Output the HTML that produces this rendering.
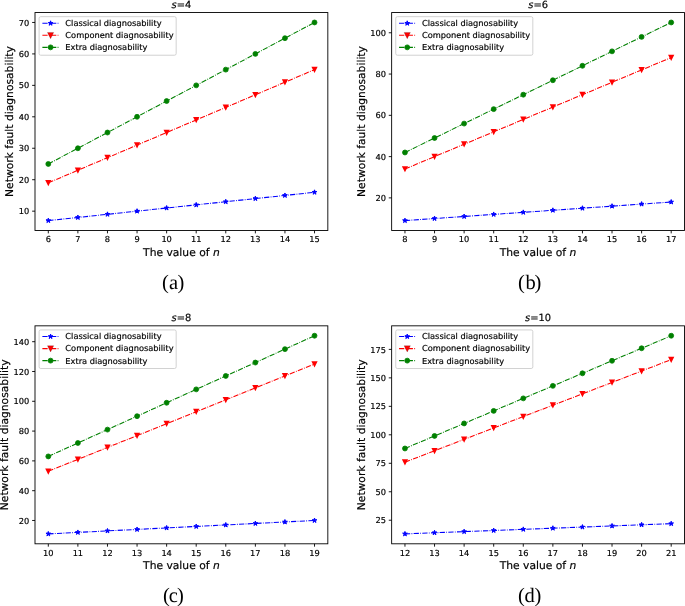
<!DOCTYPE html>
<html lang="en"><head><meta charset="utf-8"><title>Network fault diagnosability</title>
<style>html,body{margin:0;padding:0;background:#fff}body{width:685px;height:606px;overflow:hidden}svg{display:block}</style>
</head><body>
<svg text-rendering="geometricPrecision" width="685" height="606" viewBox="0 0 685 606">
<rect width="685" height="606" fill="#fff"/>
<g>
<polyline fill="none" stroke="#0000ff" stroke-width="1.08" stroke-dasharray="5.24 1.31 0.82 1.31" points="48.31,220.59 77.89,217.45 107.47,214.3 137.05,211.16 166.63,208.01 196.2,204.87 225.78,201.72 255.36,198.58 284.94,195.43 314.52,192.29"/>
<path d="M48.31 218.14L47.76 219.83L45.97 219.83L47.42 220.88L46.87 222.58L48.31 221.53L49.75 222.58L49.2 220.88L50.65 219.83L48.86 219.83ZM77.89 214.99L77.34 216.69L75.55 216.69L77 217.74L76.45 219.44L77.89 218.39L79.33 219.44L78.78 217.74L80.23 216.69L78.44 216.69ZM107.47 211.85L106.92 213.54L105.13 213.54L106.58 214.59L106.02 216.29L107.47 215.24L108.91 216.29L108.36 214.59L109.8 213.54L108.02 213.54ZM137.05 208.7L136.5 210.4L134.71 210.4L136.15 211.45L135.6 213.15L137.05 212.1L138.49 213.15L137.94 211.45L139.38 210.4L137.6 210.4ZM166.63 205.56L166.07 207.25L164.29 207.25L165.73 208.3L165.18 210L166.63 208.95L168.07 210L167.52 208.3L168.96 207.25L167.18 207.25ZM196.2 202.41L195.65 204.11L193.87 204.11L195.31 205.16L194.76 206.86L196.2 205.81L197.65 206.86L197.1 205.16L198.54 204.11L196.76 204.11ZM225.78 199.27L225.23 200.96L223.45 200.96L224.89 202.01L224.34 203.71L225.78 202.66L227.23 203.71L226.68 202.01L228.12 200.96L226.33 200.96ZM255.36 196.12L254.81 197.82L253.03 197.82L254.47 198.87L253.92 200.57L255.36 199.52L256.81 200.57L256.25 198.87L257.7 197.82L255.91 197.82ZM284.94 192.98L284.39 194.67L282.6 194.67L284.05 195.72L283.5 197.42L284.94 196.37L286.38 197.42L285.83 195.72L287.28 194.67L285.49 194.67ZM314.52 189.83L313.97 191.53L312.18 191.53L313.63 192.58L313.08 194.28L314.52 193.23L315.96 194.28L315.41 192.58L316.86 191.53L315.07 191.53Z" fill="#0000ff" stroke="#0000ff" stroke-width="1" stroke-linejoin="bevel"/>
<polyline fill="none" stroke="#ff0000" stroke-width="1.08" stroke-dasharray="5.24 1.31 0.82 1.31" points="48.31,182.85 77.89,170.27 107.47,157.69 137.05,145.11 166.63,132.53 196.2,119.95 225.78,107.37 255.36,94.79 284.94,82.21 314.52,69.63"/>
<path d="M48.31 186.23L45.19 179.99L51.43 179.99ZM77.89 173.65L74.77 167.41L81.01 167.41ZM107.47 161.07L104.35 154.83L110.59 154.83ZM137.05 148.49L133.93 142.25L140.17 142.25ZM166.63 135.91L163.51 129.67L169.75 129.67ZM196.2 123.33L193.08 117.09L199.32 117.09ZM225.78 110.75L222.66 104.51L228.9 104.51ZM255.36 98.16L252.24 91.93L258.48 91.93ZM284.94 85.58L281.82 79.35L288.06 79.35ZM314.52 73L311.4 66.77L317.64 66.77Z" fill="#ff0000"/>
<polyline fill="none" stroke="#008000" stroke-width="1.08" stroke-dasharray="5.24 1.31 0.82 1.31" points="48.31,163.98 77.89,148.26 107.47,132.53 137.05,116.81 166.63,101.08 196.2,85.36 225.78,69.63 255.36,53.91 284.94,38.18 314.52,22.46"/>
<circle cx="48.31" cy="163.98" r="2.46" fill="#008000" stroke="#008000" stroke-width="0.82"/>
<circle cx="77.89" cy="148.26" r="2.46" fill="#008000" stroke="#008000" stroke-width="0.82"/>
<circle cx="107.47" cy="132.53" r="2.46" fill="#008000" stroke="#008000" stroke-width="0.82"/>
<circle cx="137.05" cy="116.81" r="2.46" fill="#008000" stroke="#008000" stroke-width="0.82"/>
<circle cx="166.63" cy="101.08" r="2.46" fill="#008000" stroke="#008000" stroke-width="0.82"/>
<circle cx="196.2" cy="85.36" r="2.46" fill="#008000" stroke="#008000" stroke-width="0.82"/>
<circle cx="225.78" cy="69.63" r="2.46" fill="#008000" stroke="#008000" stroke-width="0.82"/>
<circle cx="255.36" cy="53.91" r="2.46" fill="#008000" stroke="#008000" stroke-width="0.82"/>
<circle cx="284.94" cy="38.18" r="2.46" fill="#008000" stroke="#008000" stroke-width="0.82"/>
<circle cx="314.52" cy="22.46" r="2.46" fill="#008000" stroke="#008000" stroke-width="0.82"/>
<path d="M48.31 230.5v2.87M77.89 230.5v2.87M107.47 230.5v2.87M137.05 230.5v2.87M166.63 230.5v2.87M196.2 230.5v2.87M225.78 230.5v2.87M255.36 230.5v2.87M284.94 230.5v2.87M314.52 230.5v2.87M35 211.16h-2.87M35 179.71h-2.87M35 148.26h-2.87M35 116.81h-2.87M35 85.36h-2.87M35 53.91h-2.87M35 22.46h-2.87" stroke="#000" stroke-width="0.9" fill="none"/>
<rect x="35" y="12.55" width="292.83" height="217.95" fill="none" stroke="#000" stroke-width="0.9"/>
<g font-family="'DejaVu Sans','Liberation Sans',sans-serif" font-size="8.25" fill="#000" stroke="#000" stroke-width="0.18">
<g text-anchor="middle">
<text x="48.31" y="242.46">6</text>
<text x="77.89" y="242.46">7</text>
<text x="107.47" y="242.46">8</text>
<text x="137.05" y="242.46">9</text>
<text x="166.63" y="242.46">10</text>
<text x="196.2" y="242.46">11</text>
<text x="225.78" y="242.46">12</text>
<text x="255.36" y="242.46">13</text>
<text x="284.94" y="242.46">14</text>
<text x="314.52" y="242.46">15</text>
</g><g text-anchor="end">
<text x="29.26" y="214.27">10</text>
<text x="29.26" y="182.82">20</text>
<text x="29.26" y="151.37">30</text>
<text x="29.26" y="119.92">40</text>
<text x="29.26" y="88.47">50</text>
<text x="29.26" y="57.02">60</text>
<text x="29.26" y="25.57">70</text>
</g>
<text font-size="9.9" text-anchor="middle" x="181.41" y="7.64"><tspan font-style="italic">s</tspan>=4</text>
<rect x="39.1" y="16.65" width="137.06" height="38.58" rx="1.64" fill="#fff" fill-opacity="0.8" stroke="#c8c8c8" stroke-width="0.82"/>
<path d="M42.38 23.28H58.78" stroke="#0000ff" stroke-width="1.08" stroke-dasharray="5.24 1.31 0.82 1.31" fill="none"/>
<path d="M50.58 20.82L50.03 22.52L48.24 22.52L49.69 23.57L49.14 25.27L50.58 24.22L52.02 25.27L51.47 23.57L52.92 22.52L51.13 22.52Z" fill="#0000ff" stroke="#0000ff" stroke-width="1" stroke-linejoin="bevel"/>
<text x="65.34" y="26.15">Classical diagnosability</text>
<path d="M42.38 35.32H58.78" stroke="#ff0000" stroke-width="1.08" stroke-dasharray="5.24 1.31 0.82 1.31" fill="none"/>
<path d="M50.58 38.69L47.46 32.45L53.7 32.45Z" fill="#ff0000"/>
<text x="65.34" y="38.19">Component diagnosability</text>
<path d="M42.38 47.36H58.78" stroke="#008000" stroke-width="1.08" stroke-dasharray="5.24 1.31 0.82 1.31" fill="none"/>
<circle cx="50.58" cy="47.36" r="2.46" fill="#008000" stroke="#008000" stroke-width="0.82"/>
<text x="65.34" y="50.22">Extra diagnosability</text>
</g>
<g font-family="'DejaVu Sans','Liberation Sans',sans-serif" font-size="10.72" fill="#000" stroke="#000" stroke-width="0.18" text-anchor="middle">
<text x="181.41" y="255.56">The value of <tspan font-style="italic">n</tspan></text>
<text transform="translate(13.33 121.52) rotate(-90)">Network fault diagnosability</text>
</g>
<text x="162.05 168.9 177.5" y="288.6" font-family="'Liberation Serif','DejaVu Serif',serif" font-size="20.5" fill="#000">(a)</text>
</g>
<g>
<polyline fill="none" stroke="#0000ff" stroke-width="1.08" stroke-dasharray="5.24 1.31 0.82 1.31" points="404.96,220.59 434.54,218.53 464.12,216.47 493.7,214.4 523.28,212.34 552.87,210.27 582.45,208.21 612.03,206.15 641.61,204.08 671.19,202.02"/>
<path d="M404.96 218.14L404.41 219.83L402.62 219.83L404.07 220.88L403.52 222.58L404.96 221.53L406.41 222.58L405.85 220.88L407.3 219.83L405.51 219.83ZM434.54 216.07L433.99 217.77L432.21 217.77L433.65 218.82L433.1 220.52L434.54 219.47L435.99 220.52L435.43 218.82L436.88 217.77L435.09 217.77ZM464.12 214.01L463.57 215.71L461.79 215.71L463.23 216.76L462.68 218.45L464.12 217.4L465.57 218.45L465.02 216.76L466.46 215.71L464.67 215.71ZM493.7 211.94L493.15 213.64L491.37 213.64L492.81 214.69L492.26 216.39L493.7 215.34L495.15 216.39L494.6 214.69L496.04 213.64L494.26 213.64ZM523.28 209.88L522.73 211.58L520.95 211.58L522.39 212.63L521.84 214.33L523.28 213.28L524.73 214.33L524.18 212.63L525.62 211.58L523.84 211.58ZM552.87 207.82L552.31 209.51L550.53 209.51L551.97 210.56L551.42 212.26L552.87 211.21L554.31 212.26L553.76 210.56L555.2 209.51L553.42 209.51ZM582.45 205.75L581.89 207.45L580.11 207.45L581.55 208.5L581 210.2L582.45 209.15L583.89 210.2L583.34 208.5L584.78 207.45L583 207.45ZM612.03 203.69L611.48 205.39L609.69 205.39L611.13 206.44L610.58 208.13L612.03 207.08L613.47 208.13L612.92 206.44L614.36 205.39L612.58 205.39ZM641.61 201.62L641.06 203.32L639.27 203.32L640.72 204.37L640.16 206.07L641.61 205.02L643.05 206.07L642.5 204.37L643.94 203.32L642.16 203.32ZM671.19 199.56L670.64 201.26L668.85 201.26L670.3 202.31L669.74 204.01L671.19 202.96L672.63 204.01L672.08 202.31L673.53 201.26L671.74 201.26Z" fill="#0000ff" stroke="#0000ff" stroke-width="1" stroke-linejoin="bevel"/>
<polyline fill="none" stroke="#ff0000" stroke-width="1.08" stroke-dasharray="5.24 1.31 0.82 1.31" points="404.96,169 434.54,156.61 464.12,144.23 493.7,131.84 523.28,119.46 552.87,107.08 582.45,94.69 612.03,82.31 641.61,69.93 671.19,57.54"/>
<path d="M404.96 172.37L401.84 166.13L408.08 166.13ZM434.54 159.98L431.42 153.75L437.66 153.75ZM464.12 147.6L461 141.36L467.24 141.36ZM493.7 135.22L490.58 128.98L496.82 128.98ZM523.28 122.83L520.17 116.59L526.4 116.59ZM552.87 110.45L549.75 104.21L555.98 104.21ZM582.45 98.07L579.33 91.83L585.57 91.83ZM612.03 85.68L608.91 79.44L615.15 79.44ZM641.61 73.3L638.49 67.06L644.73 67.06ZM671.19 60.92L668.07 54.68L674.31 54.68Z" fill="#ff0000"/>
<polyline fill="none" stroke="#008000" stroke-width="1.08" stroke-dasharray="5.24 1.31 0.82 1.31" points="404.96,152.48 434.54,138.04 464.12,123.59 493.7,109.14 523.28,94.69 552.87,80.25 582.45,65.8 612.03,51.35 641.61,36.9 671.19,22.46"/>
<circle cx="404.96" cy="152.48" r="2.46" fill="#008000" stroke="#008000" stroke-width="0.82"/>
<circle cx="434.54" cy="138.04" r="2.46" fill="#008000" stroke="#008000" stroke-width="0.82"/>
<circle cx="464.12" cy="123.59" r="2.46" fill="#008000" stroke="#008000" stroke-width="0.82"/>
<circle cx="493.7" cy="109.14" r="2.46" fill="#008000" stroke="#008000" stroke-width="0.82"/>
<circle cx="523.28" cy="94.69" r="2.46" fill="#008000" stroke="#008000" stroke-width="0.82"/>
<circle cx="552.87" cy="80.25" r="2.46" fill="#008000" stroke="#008000" stroke-width="0.82"/>
<circle cx="582.45" cy="65.8" r="2.46" fill="#008000" stroke="#008000" stroke-width="0.82"/>
<circle cx="612.03" cy="51.35" r="2.46" fill="#008000" stroke="#008000" stroke-width="0.82"/>
<circle cx="641.61" cy="36.9" r="2.46" fill="#008000" stroke="#008000" stroke-width="0.82"/>
<circle cx="671.19" cy="22.46" r="2.46" fill="#008000" stroke="#008000" stroke-width="0.82"/>
<path d="M404.96 230.5v2.87M434.54 230.5v2.87M464.12 230.5v2.87M493.7 230.5v2.87M523.28 230.5v2.87M552.87 230.5v2.87M582.45 230.5v2.87M612.03 230.5v2.87M641.61 230.5v2.87M671.19 230.5v2.87M391.65 197.89h-2.87M391.65 156.61h-2.87M391.65 115.33h-2.87M391.65 74.05h-2.87M391.65 32.78h-2.87" stroke="#000" stroke-width="0.9" fill="none"/>
<rect x="391.65" y="12.55" width="292.85" height="217.95" fill="none" stroke="#000" stroke-width="0.9"/>
<g font-family="'DejaVu Sans','Liberation Sans',sans-serif" font-size="8.25" fill="#000" stroke="#000" stroke-width="0.18">
<g text-anchor="middle">
<text x="404.96" y="242.46">8</text>
<text x="434.54" y="242.46">9</text>
<text x="464.12" y="242.46">10</text>
<text x="493.7" y="242.46">11</text>
<text x="523.28" y="242.46">12</text>
<text x="552.87" y="242.46">13</text>
<text x="582.45" y="242.46">14</text>
<text x="612.03" y="242.46">15</text>
<text x="641.61" y="242.46">16</text>
<text x="671.19" y="242.46">17</text>
</g><g text-anchor="end">
<text x="385.91" y="201">20</text>
<text x="385.91" y="159.72">40</text>
<text x="385.91" y="118.45">60</text>
<text x="385.91" y="77.17">80</text>
<text x="385.91" y="35.89">100</text>
</g>
<text font-size="9.9" text-anchor="middle" x="538.08" y="7.64"><tspan font-style="italic">s</tspan>=6</text>
<rect x="395.75" y="16.65" width="137.07" height="38.58" rx="1.64" fill="#fff" fill-opacity="0.8" stroke="#c8c8c8" stroke-width="0.82"/>
<path d="M399.03 23.28H415.43" stroke="#0000ff" stroke-width="1.08" stroke-dasharray="5.24 1.31 0.82 1.31" fill="none"/>
<path d="M407.23 20.82L406.68 22.52L404.89 22.52L406.34 23.57L405.79 25.27L407.23 24.22L408.67 25.27L408.12 23.57L409.57 22.52L407.78 22.52Z" fill="#0000ff" stroke="#0000ff" stroke-width="1" stroke-linejoin="bevel"/>
<text x="421.99" y="26.15">Classical diagnosability</text>
<path d="M399.03 35.32H415.43" stroke="#ff0000" stroke-width="1.08" stroke-dasharray="5.24 1.31 0.82 1.31" fill="none"/>
<path d="M407.23 38.69L404.11 32.45L410.35 32.45Z" fill="#ff0000"/>
<text x="421.99" y="38.19">Component diagnosability</text>
<path d="M399.03 47.36H415.43" stroke="#008000" stroke-width="1.08" stroke-dasharray="5.24 1.31 0.82 1.31" fill="none"/>
<circle cx="407.23" cy="47.36" r="2.46" fill="#008000" stroke="#008000" stroke-width="0.82"/>
<text x="421.99" y="50.22">Extra diagnosability</text>
</g>
<g font-family="'DejaVu Sans','Liberation Sans',sans-serif" font-size="10.72" fill="#000" stroke="#000" stroke-width="0.18" text-anchor="middle">
<text x="538.08" y="255.56">The value of <tspan font-style="italic">n</tspan></text>
<text transform="translate(364.77 121.52) rotate(-90)">Network fault diagnosability</text>
</g>
<text x="517.95 525.4 534.5" y="288.6" font-family="'Liberation Serif','DejaVu Serif',serif" font-size="20.5" fill="#000">(b)</text>
</g>
<g>
<polyline fill="none" stroke="#0000ff" stroke-width="1.08" stroke-dasharray="5.24 1.31 0.82 1.31" points="48.31,533.89 77.89,532.4 107.47,530.91 137.05,529.42 166.63,527.93 196.2,526.44 225.78,524.95 255.36,523.46 284.94,521.97 314.52,520.48"/>
<path d="M48.31 531.44L47.76 533.13L45.97 533.13L47.42 534.18L46.87 535.88L48.31 534.83L49.75 535.88L49.2 534.18L50.65 533.13L48.86 533.13ZM77.89 529.95L77.34 531.64L75.55 531.64L77 532.69L76.45 534.39L77.89 533.34L79.33 534.39L78.78 532.69L80.23 531.64L78.44 531.64ZM107.47 528.46L106.92 530.15L105.13 530.15L106.58 531.2L106.02 532.9L107.47 531.85L108.91 532.9L108.36 531.2L109.8 530.15L108.02 530.15ZM137.05 526.97L136.5 528.66L134.71 528.66L136.15 529.71L135.6 531.41L137.05 530.36L138.49 531.41L137.94 529.71L139.38 528.66L137.6 528.66ZM166.63 525.48L166.07 527.17L164.29 527.17L165.73 528.22L165.18 529.92L166.63 528.87L168.07 529.92L167.52 528.22L168.96 527.17L167.18 527.17ZM196.2 523.99L195.65 525.68L193.87 525.68L195.31 526.73L194.76 528.43L196.2 527.38L197.65 528.43L197.1 526.73L198.54 525.68L196.76 525.68ZM225.78 522.5L225.23 524.19L223.45 524.19L224.89 525.24L224.34 526.94L225.78 525.89L227.23 526.94L226.68 525.24L228.12 524.19L226.33 524.19ZM255.36 521.01L254.81 522.7L253.03 522.7L254.47 523.75L253.92 525.45L255.36 524.4L256.81 525.45L256.25 523.75L257.7 522.7L255.91 522.7ZM284.94 519.52L284.39 521.21L282.6 521.21L284.05 522.26L283.5 523.96L284.94 522.91L286.38 523.96L285.83 522.26L287.28 521.21L285.49 521.21ZM314.52 518.03L313.97 519.72L312.18 519.72L313.63 520.77L313.08 522.47L314.52 521.42L315.96 522.47L315.41 520.77L316.86 519.72L315.07 519.72Z" fill="#0000ff" stroke="#0000ff" stroke-width="1" stroke-linejoin="bevel"/>
<polyline fill="none" stroke="#ff0000" stroke-width="1.08" stroke-dasharray="5.24 1.31 0.82 1.31" points="48.31,471.32 77.89,459.4 107.47,447.48 137.05,435.56 166.63,423.64 196.2,411.72 225.78,399.8 255.36,387.88 284.94,375.96 314.52,364.05"/>
<path d="M48.31 474.69L45.19 468.45L51.43 468.45ZM77.89 462.77L74.77 456.53L81.01 456.53ZM107.47 450.85L104.35 444.61L110.59 444.61ZM137.05 438.93L133.93 432.69L140.17 432.69ZM166.63 427.01L163.51 420.77L169.75 420.77ZM196.2 415.09L193.08 408.86L199.32 408.86ZM225.78 403.18L222.66 396.94L228.9 396.94ZM255.36 391.26L252.24 385.02L258.48 385.02ZM284.94 379.34L281.82 373.1L288.06 373.1ZM314.52 367.42L311.4 361.18L317.64 361.18Z" fill="#ff0000"/>
<polyline fill="none" stroke="#008000" stroke-width="1.08" stroke-dasharray="5.24 1.31 0.82 1.31" points="48.31,456.42 77.89,443.01 107.47,429.6 137.05,416.19 166.63,402.78 196.2,389.37 225.78,375.96 255.36,362.56 284.94,349.15 314.52,335.74"/>
<circle cx="48.31" cy="456.42" r="2.46" fill="#008000" stroke="#008000" stroke-width="0.82"/>
<circle cx="77.89" cy="443.01" r="2.46" fill="#008000" stroke="#008000" stroke-width="0.82"/>
<circle cx="107.47" cy="429.6" r="2.46" fill="#008000" stroke="#008000" stroke-width="0.82"/>
<circle cx="137.05" cy="416.19" r="2.46" fill="#008000" stroke="#008000" stroke-width="0.82"/>
<circle cx="166.63" cy="402.78" r="2.46" fill="#008000" stroke="#008000" stroke-width="0.82"/>
<circle cx="196.2" cy="389.37" r="2.46" fill="#008000" stroke="#008000" stroke-width="0.82"/>
<circle cx="225.78" cy="375.96" r="2.46" fill="#008000" stroke="#008000" stroke-width="0.82"/>
<circle cx="255.36" cy="362.56" r="2.46" fill="#008000" stroke="#008000" stroke-width="0.82"/>
<circle cx="284.94" cy="349.15" r="2.46" fill="#008000" stroke="#008000" stroke-width="0.82"/>
<circle cx="314.52" cy="335.74" r="2.46" fill="#008000" stroke="#008000" stroke-width="0.82"/>
<path d="M48.31 543.8v2.87M77.89 543.8v2.87M107.47 543.8v2.87M137.05 543.8v2.87M166.63 543.8v2.87M196.2 543.8v2.87M225.78 543.8v2.87M255.36 543.8v2.87M284.94 543.8v2.87M314.52 543.8v2.87M35 520.48h-2.87M35 490.69h-2.87M35 460.89h-2.87M35 431.09h-2.87M35 401.29h-2.87M35 371.49h-2.87M35 341.7h-2.87" stroke="#000" stroke-width="0.9" fill="none"/>
<rect x="35" y="325.83" width="292.83" height="217.97" fill="none" stroke="#000" stroke-width="0.9"/>
<g font-family="'DejaVu Sans','Liberation Sans',sans-serif" font-size="8.25" fill="#000" stroke="#000" stroke-width="0.18">
<g text-anchor="middle">
<text x="48.31" y="555.76">10</text>
<text x="77.89" y="555.76">11</text>
<text x="107.47" y="555.76">12</text>
<text x="137.05" y="555.76">13</text>
<text x="166.63" y="555.76">14</text>
<text x="196.2" y="555.76">15</text>
<text x="225.78" y="555.76">16</text>
<text x="255.36" y="555.76">17</text>
<text x="284.94" y="555.76">18</text>
<text x="314.52" y="555.76">19</text>
</g><g text-anchor="end">
<text x="29.26" y="523.6">20</text>
<text x="29.26" y="493.8">40</text>
<text x="29.26" y="464">60</text>
<text x="29.26" y="434.2">80</text>
<text x="29.26" y="404.41">100</text>
<text x="29.26" y="374.61">120</text>
<text x="29.26" y="344.81">140</text>
</g>
<text font-size="9.9" text-anchor="middle" x="181.41" y="320.92"><tspan font-style="italic">s</tspan>=8</text>
<rect x="39.1" y="329.93" width="137.06" height="38.58" rx="1.64" fill="#fff" fill-opacity="0.8" stroke="#c8c8c8" stroke-width="0.82"/>
<path d="M42.38 336.56H58.78" stroke="#0000ff" stroke-width="1.08" stroke-dasharray="5.24 1.31 0.82 1.31" fill="none"/>
<path d="M50.58 334.1L50.03 335.8L48.24 335.8L49.69 336.85L49.14 338.55L50.58 337.5L52.02 338.55L51.47 336.85L52.92 335.8L51.13 335.8Z" fill="#0000ff" stroke="#0000ff" stroke-width="1" stroke-linejoin="bevel"/>
<text x="65.34" y="339.43">Classical diagnosability</text>
<path d="M42.38 348.6H58.78" stroke="#ff0000" stroke-width="1.08" stroke-dasharray="5.24 1.31 0.82 1.31" fill="none"/>
<path d="M50.58 351.97L47.46 345.73L53.7 345.73Z" fill="#ff0000"/>
<text x="65.34" y="351.47">Component diagnosability</text>
<path d="M42.38 360.64H58.78" stroke="#008000" stroke-width="1.08" stroke-dasharray="5.24 1.31 0.82 1.31" fill="none"/>
<circle cx="50.58" cy="360.64" r="2.46" fill="#008000" stroke="#008000" stroke-width="0.82"/>
<text x="65.34" y="363.51">Extra diagnosability</text>
</g>
<g font-family="'DejaVu Sans','Liberation Sans',sans-serif" font-size="10.72" fill="#000" stroke="#000" stroke-width="0.18" text-anchor="middle">
<text x="181.41" y="568.86">The value of <tspan font-style="italic">n</tspan></text>
<text transform="translate(8.12 434.81) rotate(-90)">Network fault diagnosability</text>
</g>
<text x="162.95 168.8 176.9" y="601.5" font-family="'Liberation Serif','DejaVu Serif',serif" font-size="20.5" fill="#000">(c)</text>
</g>
<g>
<polyline fill="none" stroke="#0000ff" stroke-width="1.08" stroke-dasharray="5.24 1.31 0.82 1.31" points="404.96,533.89 434.54,532.75 464.12,531.61 493.7,530.48 523.28,529.34 552.87,528.2 582.45,527.06 612.03,525.92 641.61,524.78 671.19,523.64"/>
<path d="M404.96 531.44L404.41 533.13L402.62 533.13L404.07 534.18L403.52 535.88L404.96 534.83L406.41 535.88L405.85 534.18L407.3 533.13L405.51 533.13ZM434.54 530.3L433.99 531.99L432.21 531.99L433.65 533.04L433.1 534.74L434.54 533.69L435.99 534.74L435.43 533.04L436.88 531.99L435.09 531.99ZM464.12 529.16L463.57 530.86L461.79 530.86L463.23 531.9L462.68 533.6L464.12 532.55L465.57 533.6L465.02 531.9L466.46 530.86L464.67 530.86ZM493.7 528.02L493.15 529.72L491.37 529.72L492.81 530.77L492.26 532.46L493.7 531.41L495.15 532.46L494.6 530.77L496.04 529.72L494.26 529.72ZM523.28 526.88L522.73 528.58L520.95 528.58L522.39 529.63L521.84 531.32L523.28 530.28L524.73 531.32L524.18 529.63L525.62 528.58L523.84 528.58ZM552.87 525.74L552.31 527.44L550.53 527.44L551.97 528.49L551.42 530.19L552.87 529.14L554.31 530.19L553.76 528.49L555.2 527.44L553.42 527.44ZM582.45 524.6L581.89 526.3L580.11 526.3L581.55 527.35L581 529.05L582.45 528L583.89 529.05L583.34 527.35L584.78 526.3L583 526.3ZM612.03 523.46L611.48 525.16L609.69 525.16L611.13 526.21L610.58 527.91L612.03 526.86L613.47 527.91L612.92 526.21L614.36 525.16L612.58 525.16ZM641.61 522.32L641.06 524.02L639.27 524.02L640.72 525.07L640.16 526.77L641.61 525.72L643.05 526.77L642.5 525.07L643.94 524.02L642.16 524.02ZM671.19 521.19L670.64 522.88L668.85 522.88L670.3 523.93L669.74 525.63L671.19 524.58L672.63 525.63L672.08 523.93L673.53 522.88L671.74 522.88Z" fill="#0000ff" stroke="#0000ff" stroke-width="1" stroke-linejoin="bevel"/>
<polyline fill="none" stroke="#ff0000" stroke-width="1.08" stroke-dasharray="5.24 1.31 0.82 1.31" points="404.96,462.15 434.54,450.76 464.12,439.37 493.7,427.98 523.28,416.59 552.87,405.21 582.45,393.82 612.03,382.43 641.61,371.04 671.19,359.65"/>
<path d="M404.96 465.52L401.84 459.28L408.08 459.28ZM434.54 454.13L431.42 447.89L437.66 447.89ZM464.12 442.74L461 436.5L467.24 436.5ZM493.7 431.35L490.58 425.12L496.82 425.12ZM523.28 419.97L520.17 413.73L526.4 413.73ZM552.87 408.58L549.75 402.34L555.98 402.34ZM582.45 397.19L579.33 390.95L585.57 390.95ZM612.03 385.8L608.91 379.56L615.15 379.56ZM641.61 374.41L638.49 368.17L644.73 368.17ZM671.19 363.03L668.07 356.79L674.31 356.79Z" fill="#ff0000"/>
<polyline fill="none" stroke="#008000" stroke-width="1.08" stroke-dasharray="5.24 1.31 0.82 1.31" points="404.96,448.48 434.54,435.95 464.12,423.43 493.7,410.9 523.28,398.37 552.87,385.85 582.45,373.32 612.03,360.79 641.61,348.26 671.19,335.74"/>
<circle cx="404.96" cy="448.48" r="2.46" fill="#008000" stroke="#008000" stroke-width="0.82"/>
<circle cx="434.54" cy="435.95" r="2.46" fill="#008000" stroke="#008000" stroke-width="0.82"/>
<circle cx="464.12" cy="423.43" r="2.46" fill="#008000" stroke="#008000" stroke-width="0.82"/>
<circle cx="493.7" cy="410.9" r="2.46" fill="#008000" stroke="#008000" stroke-width="0.82"/>
<circle cx="523.28" cy="398.37" r="2.46" fill="#008000" stroke="#008000" stroke-width="0.82"/>
<circle cx="552.87" cy="385.85" r="2.46" fill="#008000" stroke="#008000" stroke-width="0.82"/>
<circle cx="582.45" cy="373.32" r="2.46" fill="#008000" stroke="#008000" stroke-width="0.82"/>
<circle cx="612.03" cy="360.79" r="2.46" fill="#008000" stroke="#008000" stroke-width="0.82"/>
<circle cx="641.61" cy="348.26" r="2.46" fill="#008000" stroke="#008000" stroke-width="0.82"/>
<circle cx="671.19" cy="335.74" r="2.46" fill="#008000" stroke="#008000" stroke-width="0.82"/>
<path d="M404.96 543.8v2.87M434.54 543.8v2.87M464.12 543.8v2.87M493.7 543.8v2.87M523.28 543.8v2.87M552.87 543.8v2.87M582.45 543.8v2.87M612.03 543.8v2.87M641.61 543.8v2.87M671.19 543.8v2.87M391.65 520.23h-2.87M391.65 491.76h-2.87M391.65 463.29h-2.87M391.65 434.81h-2.87M391.65 406.34h-2.87M391.65 377.87h-2.87M391.65 349.4h-2.87" stroke="#000" stroke-width="0.9" fill="none"/>
<rect x="391.65" y="325.83" width="292.85" height="217.97" fill="none" stroke="#000" stroke-width="0.9"/>
<g font-family="'DejaVu Sans','Liberation Sans',sans-serif" font-size="8.25" fill="#000" stroke="#000" stroke-width="0.18">
<g text-anchor="middle">
<text x="404.96" y="555.76">12</text>
<text x="434.54" y="555.76">13</text>
<text x="464.12" y="555.76">14</text>
<text x="493.7" y="555.76">15</text>
<text x="523.28" y="555.76">16</text>
<text x="552.87" y="555.76">17</text>
<text x="582.45" y="555.76">18</text>
<text x="612.03" y="555.76">19</text>
<text x="641.61" y="555.76">20</text>
<text x="671.19" y="555.76">21</text>
</g><g text-anchor="end">
<text x="385.91" y="523.34">25</text>
<text x="385.91" y="494.87">50</text>
<text x="385.91" y="466.4">75</text>
<text x="385.91" y="437.93">100</text>
<text x="385.91" y="409.46">125</text>
<text x="385.91" y="380.99">150</text>
<text x="385.91" y="352.52">175</text>
</g>
<text font-size="9.9" text-anchor="middle" x="538.08" y="320.92"><tspan font-style="italic">s</tspan>=10</text>
<rect x="395.75" y="329.93" width="137.07" height="38.58" rx="1.64" fill="#fff" fill-opacity="0.8" stroke="#c8c8c8" stroke-width="0.82"/>
<path d="M399.03 336.56H415.43" stroke="#0000ff" stroke-width="1.08" stroke-dasharray="5.24 1.31 0.82 1.31" fill="none"/>
<path d="M407.23 334.1L406.68 335.8L404.89 335.8L406.34 336.85L405.79 338.55L407.23 337.5L408.67 338.55L408.12 336.85L409.57 335.8L407.78 335.8Z" fill="#0000ff" stroke="#0000ff" stroke-width="1" stroke-linejoin="bevel"/>
<text x="421.99" y="339.43">Classical diagnosability</text>
<path d="M399.03 348.6H415.43" stroke="#ff0000" stroke-width="1.08" stroke-dasharray="5.24 1.31 0.82 1.31" fill="none"/>
<path d="M407.23 351.97L404.11 345.73L410.35 345.73Z" fill="#ff0000"/>
<text x="421.99" y="351.47">Component diagnosability</text>
<path d="M399.03 360.64H415.43" stroke="#008000" stroke-width="1.08" stroke-dasharray="5.24 1.31 0.82 1.31" fill="none"/>
<circle cx="407.23" cy="360.64" r="2.46" fill="#008000" stroke="#008000" stroke-width="0.82"/>
<text x="421.99" y="363.51">Extra diagnosability</text>
</g>
<g font-family="'DejaVu Sans','Liberation Sans',sans-serif" font-size="10.72" fill="#000" stroke="#000" stroke-width="0.18" text-anchor="middle">
<text x="538.08" y="568.86">The value of <tspan font-style="italic">n</tspan></text>
<text transform="translate(364.76 434.81) rotate(-90)">Network fault diagnosability</text>
</g>
<text x="518.05 524.4 534.4" y="601.5" font-family="'Liberation Serif','DejaVu Serif',serif" font-size="20.5" fill="#000">(d)</text>
</g>
</svg>
</body></html>
